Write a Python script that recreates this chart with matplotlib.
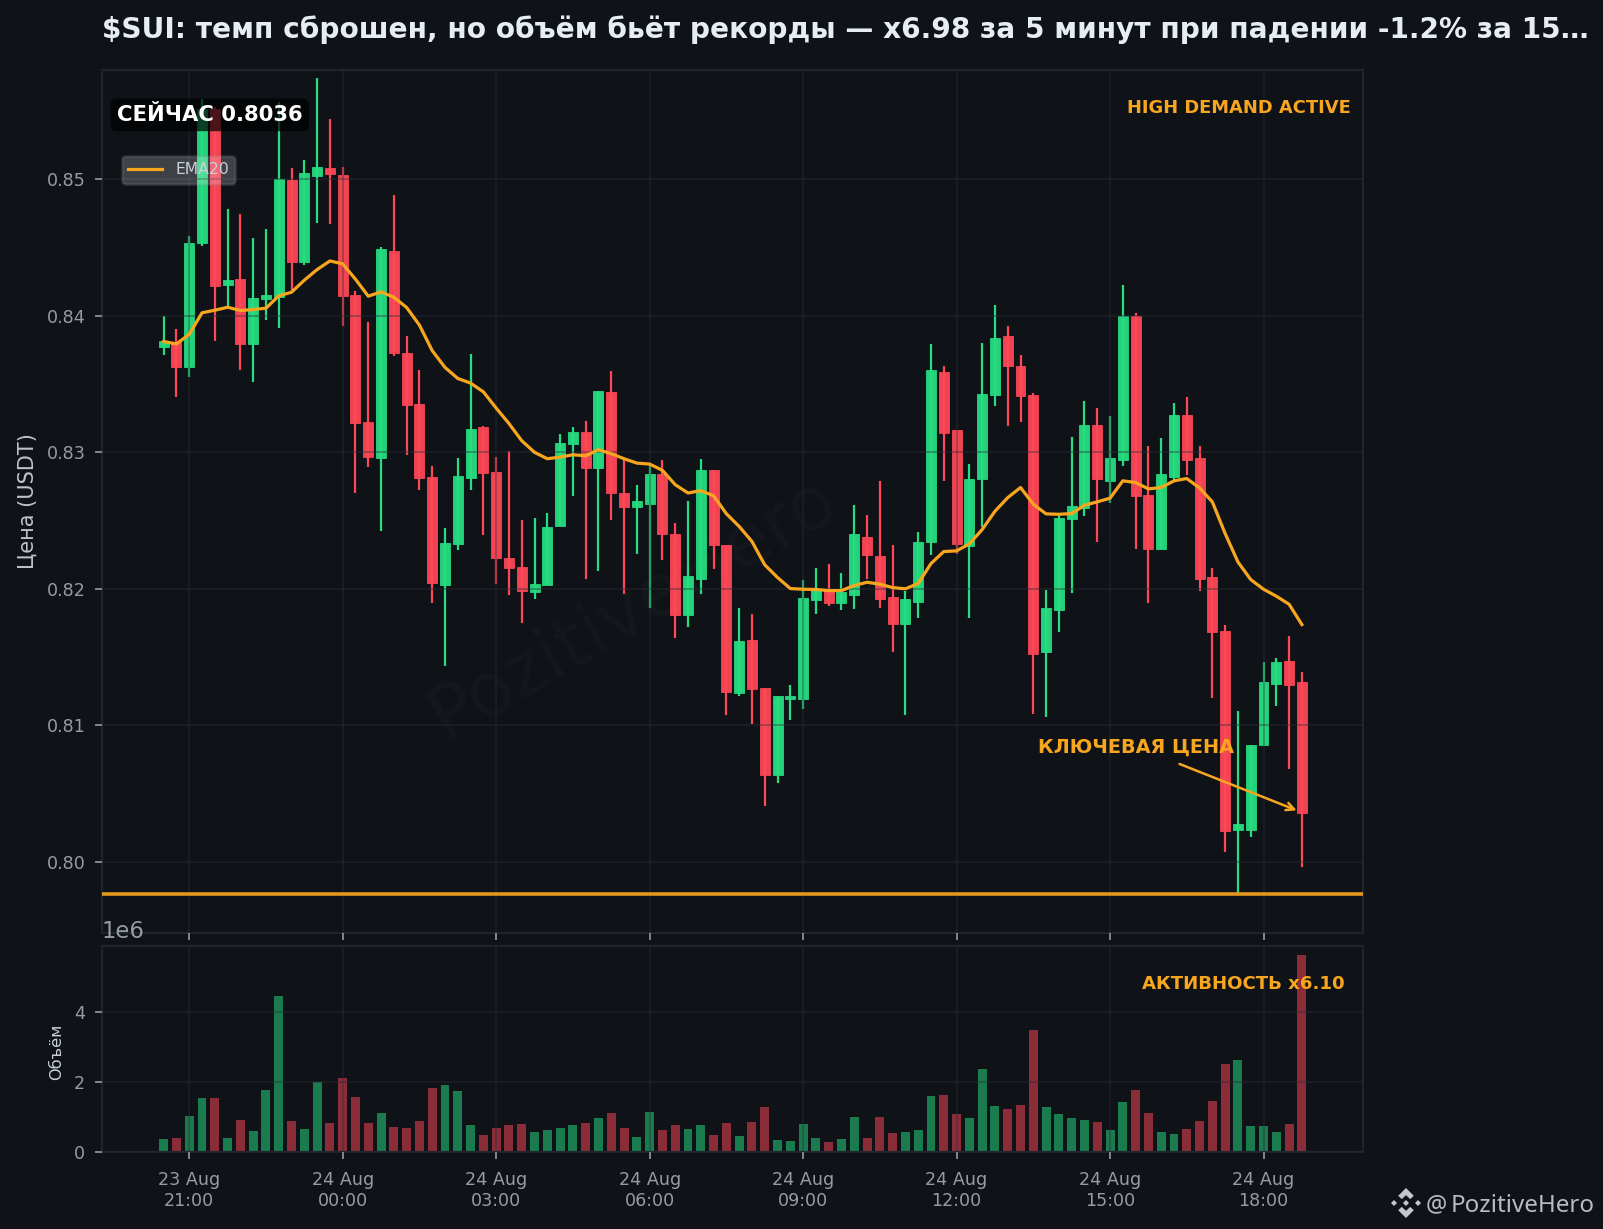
#!/usr/bin/python
# SUI/USDT 15m candles with EMA20 and a volume panel below
import numpy as np
import pandas as pd
import matplotlib
matplotlib.use('Agg')
import matplotlib.pyplot as plt
import matplotlib.dates as mdates
from matplotlib.patches import Polygon
from matplotlib.ticker import MultipleLocator, FormatStrFormatter

times = pd.date_range('2025-08-23 20:30', periods=90, freq='15min')

opens = [0.83766, 0.83807, 0.83624, 0.84535, 0.85510, 0.84225, 0.84271, 0.83792, 0.84122, 0.84137,
         0.84991, 0.84393, 0.85023, 0.85084, 0.85033, 0.84147, 0.83223, 0.82957, 0.84476, 0.83722,
         0.83355, 0.82817, 0.82027, 0.82327, 0.82811, 0.83187, 0.82857, 0.82227, 0.82161, 0.81976,
         0.82027, 0.82455, 0.83056, 0.83147, 0.82880, 0.83440, 0.82697, 0.82595, 0.82617, 0.82839,
         0.82396, 0.81804, 0.82070, 0.82868, 0.82319, 0.81236, 0.81626, 0.81271, 0.80634, 0.81192,
         0.81192, 0.81917, 0.81985, 0.81895, 0.81954, 0.82381, 0.82235, 0.81941, 0.81741, 0.81902,
         0.82338, 0.83586, 0.83161, 0.82312, 0.82800, 0.83415, 0.83850, 0.83630, 0.83418, 0.81536,
         0.81841, 0.82509, 0.82587, 0.83198, 0.82785, 0.82939, 0.83996, 0.82686, 0.82291, 0.82817,
         0.83271, 0.82956, 0.82081, 0.81688, 0.80232, 0.80232, 0.80857, 0.81302, 0.81472, 0.81315]
highs = [0.84000, 0.83900, 0.84581, 0.85590, 0.85530, 0.84784, 0.84742, 0.84567, 0.84637, 0.85565,
         0.85079, 0.85138, 0.85744, 0.85438, 0.85087, 0.84178, 0.83951, 0.84501, 0.84882, 0.83849,
         0.83600, 0.82896, 0.82440, 0.82960, 0.83716, 0.83190, 0.82962, 0.83006, 0.82501, 0.82520,
         0.82557, 0.83134, 0.83186, 0.83230, 0.83447, 0.83596, 0.82956, 0.82757, 0.82907, 0.82944,
         0.82479, 0.82640, 0.82951, 0.82868, 0.82319, 0.81854, 0.81812, 0.81271, 0.81216, 0.81292,
         0.82061, 0.82149, 0.82178, 0.82112, 0.82610, 0.82537, 0.82786, 0.82317, 0.81980, 0.82417,
         0.83794, 0.83630, 0.83161, 0.82910, 0.83799, 0.84079, 0.83926, 0.83709, 0.83432, 0.81988,
         0.82540, 0.83110, 0.83376, 0.83322, 0.83266, 0.84222, 0.84018, 0.83046, 0.83103, 0.83359,
         0.83405, 0.83046, 0.82154, 0.81731, 0.81105, 0.80857, 0.81464, 0.81494, 0.81651, 0.81388]
lows = [0.83709, 0.83402, 0.83548, 0.84510, 0.83812, 0.84063, 0.83600, 0.83514, 0.83966, 0.83910,
        0.84173, 0.84369, 0.84679, 0.84672, 0.83924, 0.82701, 0.82891, 0.82423, 0.83705, 0.82977,
        0.82720, 0.81895, 0.81433, 0.82283, 0.82720, 0.82391, 0.82032, 0.81951, 0.81748, 0.81924,
        0.82027, 0.82455, 0.82675, 0.82072, 0.82126, 0.82504, 0.81958, 0.82252, 0.81858, 0.82208,
        0.81639, 0.81719, 0.81958, 0.82146, 0.81072, 0.81211, 0.81006, 0.80409, 0.80575, 0.81035,
        0.81118, 0.81812, 0.81871, 0.81841, 0.81849, 0.82068, 0.81856, 0.81535, 0.81070, 0.81785,
        0.82244, 0.82785, 0.82254, 0.81787, 0.82451, 0.83339, 0.83188, 0.83222, 0.81079, 0.81057,
        0.81683, 0.81967, 0.82534, 0.82338, 0.82624, 0.82895, 0.82289, 0.81894, 0.82291, 0.82797,
        0.82834, 0.81983, 0.81199, 0.80071, 0.79766, 0.80181, 0.80857, 0.81140, 0.80680, 0.79961]
closes = [0.83814, 0.83624, 0.84535, 0.85510, 0.84217, 0.84264, 0.83792, 0.84125, 0.84154, 0.85004,
          0.84393, 0.85048, 0.85092, 0.85038, 0.84144, 0.83214, 0.82965, 0.84486, 0.83726, 0.83346,
          0.82811, 0.82042, 0.82337, 0.82821, 0.83172, 0.82847, 0.82225, 0.82151, 0.81983, 0.82034,
          0.82454, 0.83066, 0.83147, 0.82880, 0.83447, 0.82697, 0.82595, 0.82642, 0.82839, 0.82397,
          0.81804, 0.82095, 0.82868, 0.82316, 0.81243, 0.81612, 0.81265, 0.80634, 0.81216, 0.81216,
          0.81934, 0.82000, 0.81895, 0.81971, 0.82396, 0.82247, 0.81924, 0.81741, 0.81927, 0.82344,
          0.83601, 0.83137, 0.82327, 0.82805, 0.83425, 0.83835, 0.83628, 0.83408, 0.81524, 0.81861,
          0.82516, 0.82604, 0.83198, 0.82800, 0.82956, 0.83996, 0.82676, 0.82291, 0.82839, 0.83271,
          0.82939, 0.82070, 0.81683, 0.80225, 0.80278, 0.80857, 0.81315, 0.81465, 0.81294, 0.80357]
ema20 = [0.83810, 0.83792, 0.83863, 0.84020, 0.84039, 0.84061, 0.84037, 0.84044, 0.84054, 0.84144,
         0.84171, 0.84259, 0.84337, 0.84400, 0.84379, 0.84266, 0.84142, 0.84173, 0.84134, 0.84059,
         0.83930, 0.83743, 0.83620, 0.83539, 0.83505, 0.83441, 0.83322, 0.83209, 0.83083, 0.82998,
         0.82951, 0.82963, 0.82980, 0.82973, 0.83017, 0.82988, 0.82951, 0.82919, 0.82912, 0.82866,
         0.82761, 0.82700, 0.82717, 0.82680, 0.82548, 0.82455, 0.82345, 0.82174, 0.82081, 0.82000,
         0.81995, 0.81993, 0.81985, 0.81985, 0.82022, 0.82046, 0.82032, 0.82007, 0.81998, 0.82037,
         0.82183, 0.82271, 0.82276, 0.82327, 0.82432, 0.82566, 0.82666, 0.82740, 0.82618, 0.82547,
         0.82544, 0.82549, 0.82610, 0.82635, 0.82662, 0.82789, 0.82777, 0.82730, 0.82740, 0.82789,
         0.82806, 0.82737, 0.82635, 0.82403, 0.82195, 0.82066, 0.81995, 0.81944, 0.81885, 0.81736]
volume_m = [0.37, 0.40, 1.03, 1.55, 1.55, 0.40, 0.91, 0.60, 1.78, 4.47,
            0.88, 0.66, 2.00, 0.83, 2.12, 1.57, 0.83, 1.11, 0.71, 0.68,
            0.88, 1.83, 1.92, 1.75, 0.77, 0.48, 0.68, 0.77, 0.80, 0.57,
            0.63, 0.68, 0.77, 0.83, 0.97, 1.11, 0.68, 0.43, 1.14, 0.63,
            0.77, 0.66, 0.77, 0.48, 0.83, 0.45, 0.86, 1.29, 0.34, 0.31,
            0.80, 0.40, 0.28, 0.37, 1.00, 0.40, 1.00, 0.54, 0.57, 0.63,
            1.60, 1.63, 1.09, 0.97, 2.38, 1.32, 1.23, 1.34, 3.50, 1.29,
            1.09, 0.97, 0.91, 0.86, 0.63, 1.43, 1.78, 1.11, 0.57, 0.51,
            0.66, 0.89, 1.46, 2.52, 2.64, 0.74, 0.74, 0.57, 0.80, 5.62]
key_level = 0.7976
last_price = 0.8036

BG = '#0f1217'
GREEN = '#26de81'
RED = '#ff4757'
ORANGE = '#f9a61f'
GRID = '#2a2f38'
SPINE = '#1f242b'
TICK = '#969ca6'
W, H = 1603, 1229


def pixel_axes(fig, left, top, right, bottom, **kw):
    return fig.add_axes([left/W, 1 - bottom/H, (right-left)/W, (bottom-top)/H], **kw)


fig = plt.figure(figsize=(W/200, H/200), dpi=200, facecolor=BG)
ax = pixel_axes(fig, 102, 70, 1363, 932.5)
ax2 = pixel_axes(fig, 102, 946, 1363, 1152)

x = mdates.date2num(times)
bin_days = 1/96
o = np.array(opens)
c = np.array(closes)
up = c >= o
colors = np.where(up, GREEN, RED)

ax.vlines(x, lows, highs, colors=colors, linewidth=0.8, zorder=1)
ax.bar(x, np.abs(c-o), bottom=np.minimum(o, c), width=bin_days*0.78, color=colors,
       edgecolor=colors, linewidth=0.3, alpha=0.95, zorder=1.5)
ax.plot(x, ema20, color=ORANGE, linewidth=1.15, label='EMA20', zorder=3)
ax.axhline(key_level, color=ORANGE, linewidth=1.3, alpha=0.9, zorder=3)

volume = np.array(volume_m)*1e6
ax2.bar(x, volume, width=bin_days*0.7, color=colors, alpha=0.52, linewidth=0)

for a in (ax, ax2):
    a.set_facecolor(BG)
    a.grid(True, color=GRID, linewidth=0.6, alpha=0.45)
    a.set_axisbelow(False)
    for s in a.spines.values():
        s.set_color(SPINE)
        s.set_linewidth(0.8)
    a.tick_params(colors=TICK, labelsize=6.3, length=2.5, width=0.6)
    a.set_xlim(x[0] - 4.82*bin_days, x[-1] + 4.78*bin_days)
    a.xaxis.set_major_locator(mdates.HourLocator(byhour=range(0, 24, 3)))
    a.xaxis.set_major_formatter(mdates.DateFormatter('%d %b\n%H:%M'))

ax.set_ylim(0.7948, 0.85799)
ax.yaxis.set_major_locator(MultipleLocator(0.01))
ax.yaxis.set_major_formatter(FormatStrFormatter('%.2f'))
ax.tick_params(labelbottom=False)
ax.set_ylabel('Цена (USDT)', color='#bcc3cb', fontsize=7.5, labelpad=3.2)

ax2.tick_params(axis='x', pad=4.3)
ax2.set_ylim(0, 5.89e6)
ax2.yaxis.set_major_locator(MultipleLocator(2e6))
ax2.yaxis.get_offset_text().set_color(TICK)
ax2.yaxis.get_offset_text().set_fontsize(8.2)
ax2.set_ylabel('Объём', color='#c9d1d9', fontsize=5.8, labelpad=3.6, y=0.485)

fig.text(102/W, 1 - 30/H, '$SUI: темп сброшен, но объём бьёт рекорды — x6.98 за 5 минут при падении -1.2% за 15…',
         color='#e6edf3', fontsize=10.08, fontweight='bold', ha='left', va='center', parse_math=False)

ax.text(0.0119, 0.948, 'СЕЙЧАС %.4f' % last_price, transform=ax.transAxes, color='white',
        fontsize=7.6, fontweight='bold', ha='left', va='center', zorder=6,
        bbox=dict(boxstyle='round,pad=0.3', facecolor='black', edgecolor='none', alpha=0.7))
ax.text(0.9905, 0.9555, 'HIGH DEMAND ACTIVE', transform=ax.transAxes, color=ORANGE,
        fontsize=6.45, fontweight='bold', ha='right', va='center', zorder=6)
ax.text(0.421, 0.376, 'PozitiveHero', transform=ax.transAxes, color='white', alpha=0.025,
        fontsize=26.5, rotation=30, ha='center', va='center', zorder=0.5)

leg = ax.legend(loc='upper left', bbox_to_anchor=(0.0156, 0.9003), borderaxespad=0,
                fontsize=5.65, handlelength=2.2, facecolor='white', framealpha=0.2,
                edgecolor='#8b949e', labelcolor='#c9d1d9')
leg.set_zorder(5)

ax.annotate('КЛЮЧЕВАЯ ЦЕНА', xy=(x[-1], last_price), xytext=(x[0] + 76.06*bin_days, 0.8084),
            color=ORANGE, fontsize=6.95, fontweight='bold', ha='center', va='center', zorder=6,
            arrowprops=dict(arrowstyle='->', color=ORANGE, linewidth=0.9))

ax2.text(0.9857, 0.815, 'АКТИВНОСТЬ x6.10', transform=ax2.transAxes, color=ORANGE,
         fontsize=6.55, fontweight='bold', ha='right', va='center', zorder=6)

# signature in the lower right corner
logo = pixel_axes(fig, 1391, 1188, 1421, 1218)
logo.set_xlim(-1, 1)
logo.set_ylim(-1, 1)
logo.axis('off')
LOGO = '#c4c8cd'
for cx, cy in [(0, 0), (-0.8, 0), (0.8, 0)]:
    logo.add_patch(Polygon([(cx-0.2, cy), (cx, cy+0.2), (cx+0.2, cy), (cx, cy-0.2)], color=LOGO, lw=0))
for sign in (1, -1):
    logo.add_patch(Polygon([(0, sign*1.0), (0.52, sign*0.48), (0.28, sign*0.26), (0, sign*0.52),
                            (-0.28, sign*0.26), (-0.52, sign*0.48)], color=LOGO, lw=0))
fig.text(1426/W, 1 - 1211.7/H, '@', color='#b8bcc2', fontsize=8.5, family='Noto Sans', ha='left', va='baseline')
fig.text(1451/W, 1 - 1211.7/H, 'PozitiveHero', color='#b8bcc2', fontsize=8.7, family='Noto Sans',
         ha='left', va='baseline')

fig.savefig('out.png', dpi=200, facecolor=BG)
plt.close(fig)
